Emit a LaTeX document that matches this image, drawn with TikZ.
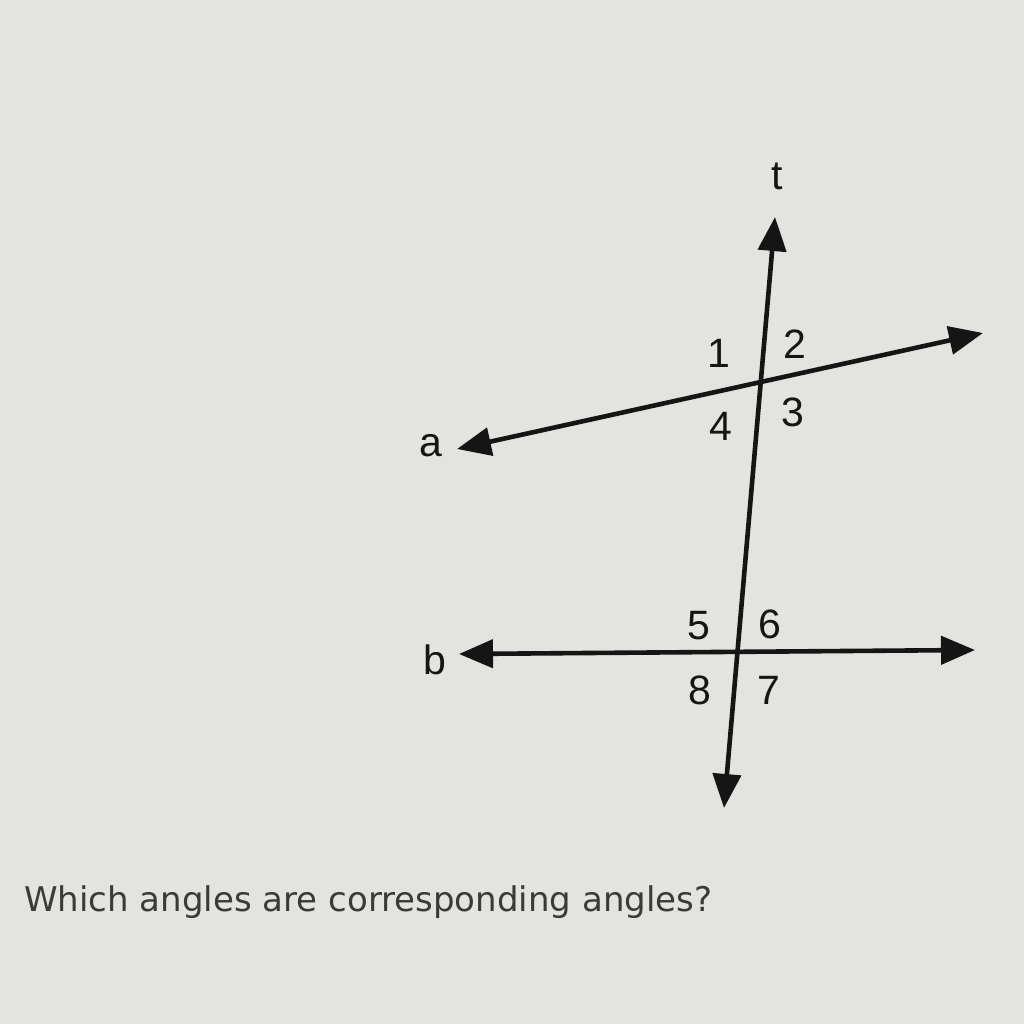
\documentclass[tikz,border=0pt]{standalone}
\usepackage{fontspec}
\setmainfont{Liberation Sans}
\newfontfamily\qfont{DejaVu Sans}
\usetikzlibrary{arrows.meta}
\definecolor{bg}{HTML}{E3E4DF}
\definecolor{ink}{HTML}{151515}
\definecolor{qink}{HTML}{3A3A3A}
\tikzset{
  lineArrow/.style={draw=ink, line width=4.6pt, {Triangle[length=34pt,width=28pt]}-{Triangle[length=34pt,width=28pt]}},
  numlabel/.style={inner sep=0pt, text=ink, font=\fontsize{41}{48}\selectfont},
  question/.style={inner sep=0pt, anchor=base west, text=qink, font=\qfont\fontsize{34}{40}\selectfont}
}
\begin{document}
\begin{tikzpicture}[x=1pt,y=-1pt]
\fill[bg] (0,0) rectangle (1024,1024);
\useasboundingbox (0,0) rectangle (1024,1024);
% tips
\coordinate (T1) at (775,217);
\coordinate (T2) at (724,808);
\coordinate (A1) at (457,449);
\coordinate (A2) at (983,333);
\coordinate (B1) at (459,654);
\coordinate (B2) at (975,650);
\draw[lineArrow] (T2) -- (T1);
\draw[lineArrow] (A1) -- (A2);
\draw[lineArrow] (B1) -- (B2);
% labels
\node[numlabel] (lt) at (777,176) {t};
\node[numlabel] (la) at (431,446) {a};
\node[numlabel] (lb) at (435,660) {b};
\node[numlabel] (n1) at (719,353) {1};
\node[numlabel] (n2) at (795,344) {2};
\node[numlabel] (n3) at (793,412) {3};
\node[numlabel] (n4) at (721,426) {4};
\node[numlabel] (n5) at (699,626) {5};
\node[numlabel] (n6) at (770,624) {6};
\node[numlabel] (n8) at (700,690) {8};
\node[numlabel] (n7) at (769,690) {7};
\node[question] (q) at (24,911) {Which angles are corresponding angles?};
\end{tikzpicture}
\end{document}
